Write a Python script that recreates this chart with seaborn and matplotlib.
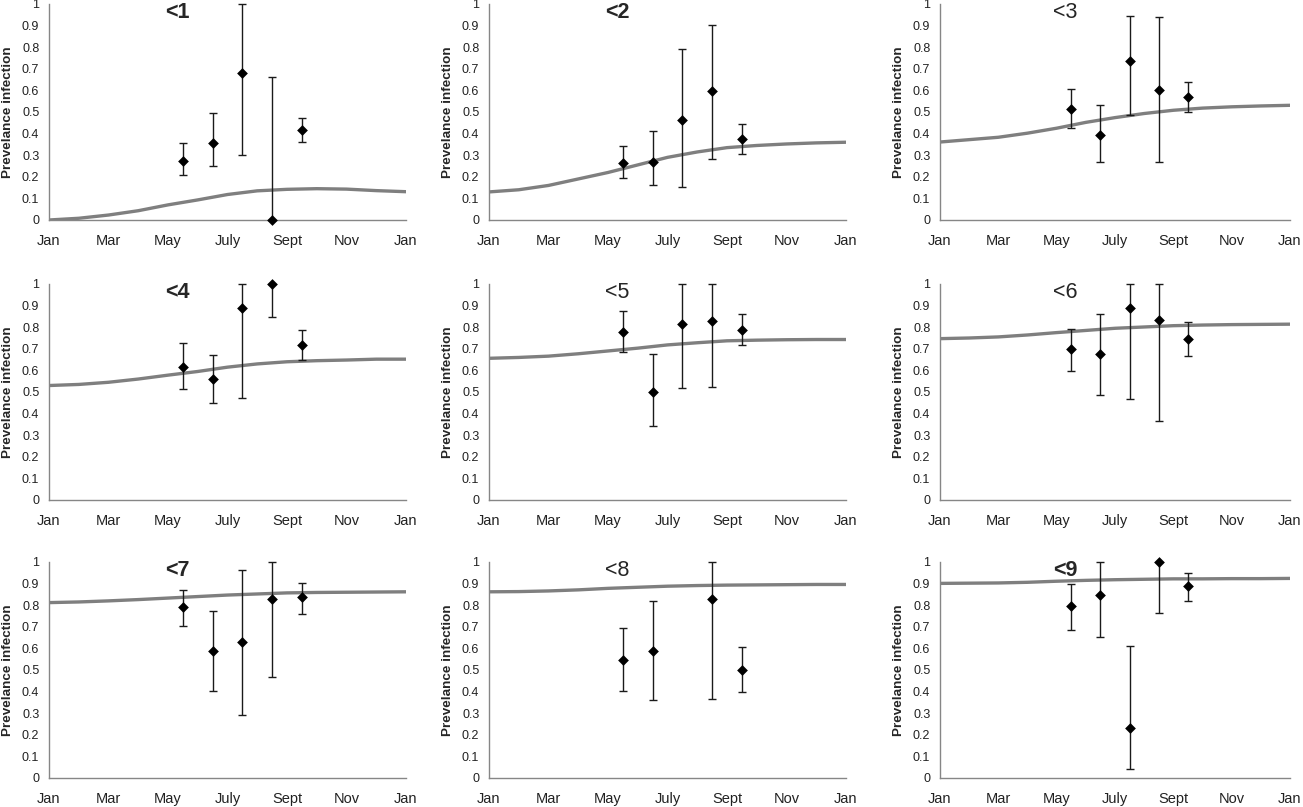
import numpy as np
import pandas as pd
import matplotlib
matplotlib.use('Agg')
import matplotlib.pyplot as plt
import seaborn as sns

sns.set_style("white")
plt.rcParams['font.family'] = ['Liberation Sans', 'DejaVu Sans']

# panel titles (age classes)
panels = ['<1', '<2', '<3', '<4', '<5', '<6', '<7', '<8', '<9']
title_bold = [True, True, False, True, False, False, True, False, True]

# x axis in months since Jan
curve_months = list(range(13))
tick_months = [0, 2, 4, 6, 8, 10, 12]
tick_labels = ['Jan', 'Mar', 'May', 'July', 'Sept', 'Nov', 'Jan']
ytick_vals = [0, 0.1, 0.2, 0.3, 0.4, 0.5, 0.6, 0.7, 0.8, 0.9, 1]
ytick_labels = ['0', '0.1', '0.2', '0.3', '0.4', '0.5', '0.6', '0.7', '0.8', '0.9', '1']

# model curve
curve_vals = [
    [0.0, 0.008, 0.023, 0.043, 0.07, 0.093, 0.118, 0.135, 0.142, 0.145, 0.143, 0.136, 0.131],
    [0.13, 0.14, 0.16, 0.19, 0.22, 0.255, 0.29, 0.315, 0.335, 0.345, 0.352, 0.357, 0.36],
    [0.361, 0.372, 0.383, 0.402, 0.425, 0.452, 0.474, 0.493, 0.508, 0.518, 0.524, 0.528, 0.531],
    [0.53, 0.535, 0.545, 0.56, 0.578, 0.595, 0.615, 0.63, 0.64, 0.645, 0.648, 0.652, 0.652],
    [0.656, 0.66, 0.666, 0.677, 0.69, 0.703, 0.718, 0.728, 0.737, 0.74, 0.742, 0.743, 0.743],
    [0.747, 0.75, 0.755, 0.764, 0.775, 0.785, 0.795, 0.801, 0.807, 0.81, 0.812, 0.813, 0.814],
    [0.812, 0.815, 0.82, 0.826, 0.833, 0.84, 0.847, 0.852, 0.857, 0.859, 0.86, 0.861, 0.862],
    [0.862, 0.863, 0.866, 0.871, 0.878, 0.883, 0.888, 0.891, 0.893, 0.894, 0.895, 0.896, 0.896],
    [0.901, 0.902, 0.903, 0.906, 0.911, 0.915, 0.918, 0.92, 0.922, 0.922, 0.923, 0.923, 0.924],
]

# observed prevalence with confidence limits
point_months = [
    [4.5, 5.5, 6.5, 7.5, 8.5],
    [4.5, 5.5, 6.5, 7.5, 8.5],
    [4.5, 5.5, 6.5, 7.5, 8.5],
    [4.5, 5.5, 6.5, 7.5, 8.5],
    [4.5, 5.5, 6.5, 7.5, 8.5],
    [4.5, 5.5, 6.5, 7.5, 8.5],
    [4.5, 5.5, 6.5, 7.5, 8.5],
    [4.5, 5.5, 7.5, 8.5],
    [4.5, 5.5, 6.5, 7.5, 8.5],
]
point_mean = [
    [0.273, 0.356, 0.68, 0.0, 0.417],
    [0.265, 0.268, 0.463, 0.597, 0.377],
    [0.514, 0.392, 0.736, 0.602, 0.568],
    [0.617, 0.558, 0.889, 1.0, 0.716],
    [0.78, 0.502, 0.815, 0.829, 0.789],
    [0.698, 0.674, 0.891, 0.834, 0.747],
    [0.79, 0.588, 0.628, 0.831, 0.837],
    [0.545, 0.588, 0.831, 0.498],
    [0.796, 0.845, 0.232, 1.0, 0.889],
]
point_lo = [
    [0.207, 0.248, 0.30, 0.0, 0.363],
    [0.193, 0.164, 0.153, 0.284, 0.304],
    [0.427, 0.267, 0.486, 0.267, 0.50],
    [0.513, 0.45, 0.47, 0.849, 0.646],
    [0.687, 0.344, 0.519, 0.524, 0.718],
    [0.597, 0.485, 0.468, 0.364, 0.668],
    [0.703, 0.403, 0.292, 0.469, 0.757],
    [0.403, 0.363, 0.366, 0.398],
    [0.685, 0.652, 0.042, 0.765, 0.818],
]
point_hi = [
    [0.355, 0.495, 1.0, 0.664, 0.474],
    [0.344, 0.41, 0.79, 0.903, 0.446],
    [0.608, 0.532, 0.946, 0.94, 0.637],
    [0.726, 0.671, 1.0, 1.0, 0.787],
    [0.874, 0.676, 1.0, 1.0, 0.861],
    [0.791, 0.862, 1.0, 1.0, 0.823],
    [0.871, 0.774, 0.963, 1.0, 0.902],
    [0.694, 0.818, 1.0, 0.605],
    [0.90, 1.0, 0.61, 1.0, 0.95],
]

W, H = 1303, 807
fig = plt.figure(figsize=(W / 100, H / 100), dpi=100)
col_left = [49, 489, 940]
col_width = [357, 357, 350]
row_top = [4, 284, 562]
ax_h = 216
axis_grey = '#868686'

for i, name in enumerate(panels):
    r, c = divmod(i, 3)
    ax = fig.add_axes([col_left[c] / W, 1 - (row_top[r] + ax_h) / H, col_width[c] / W, ax_h / H])

    curve_df = pd.DataFrame({'month': curve_months, 'prev': curve_vals[i]})
    sns.lineplot(data=curve_df, x='month', y='prev', ax=ax, color='#7f7f7f', linewidth=2.4)

    pts = pd.DataFrame({'month': point_months[i], 'prev': point_mean[i],
                        'lo': point_lo[i], 'hi': point_hi[i]})
    ax.errorbar(pts.month, pts.prev, yerr=[pts.prev - pts.lo, pts.hi - pts.prev],
                fmt='none', ecolor='#1a1a1a', elinewidth=1, capsize=3, capthick=1,
                clip_on=False, zorder=3)
    sns.scatterplot(data=pts, x='month', y='prev', ax=ax, marker='D', color='black',
                    s=30, edgecolor='black', linewidth=0, clip_on=False, zorder=4)

    ax.set_xlim(0, 12)
    ax.set_ylim(0, 1)
    ax.set_xticks(tick_months)
    ax.set_xticklabels(tick_labels, fontsize=10.5)
    ax.set_yticks(ytick_vals)
    ax.set_yticklabels(ytick_labels, fontsize=9)
    ax.set_xlabel('')
    ax.set_ylabel('Prevelance infection', fontsize=9.7, fontweight='bold', labelpad=6)
    ax.text(4.3, 0.96, name, ha='center', va='center', fontsize=15.5,
            fontweight='bold' if title_bold[i] else 'normal')

    sns.despine(ax=ax)
    for side in ['left', 'bottom']:
        ax.spines[side].set_color(axis_grey)
        ax.spines[side].set_linewidth(1)
    ax.tick_params(axis='both', direction='out', length=4, width=1, color=axis_grey,
                   labelcolor='#222222')
    ax.tick_params(axis='x', pad=6)
    ax.tick_params(axis='y', pad=3)
    ax.patch.set_alpha(0)

fig.savefig('out.png', dpi=100)
